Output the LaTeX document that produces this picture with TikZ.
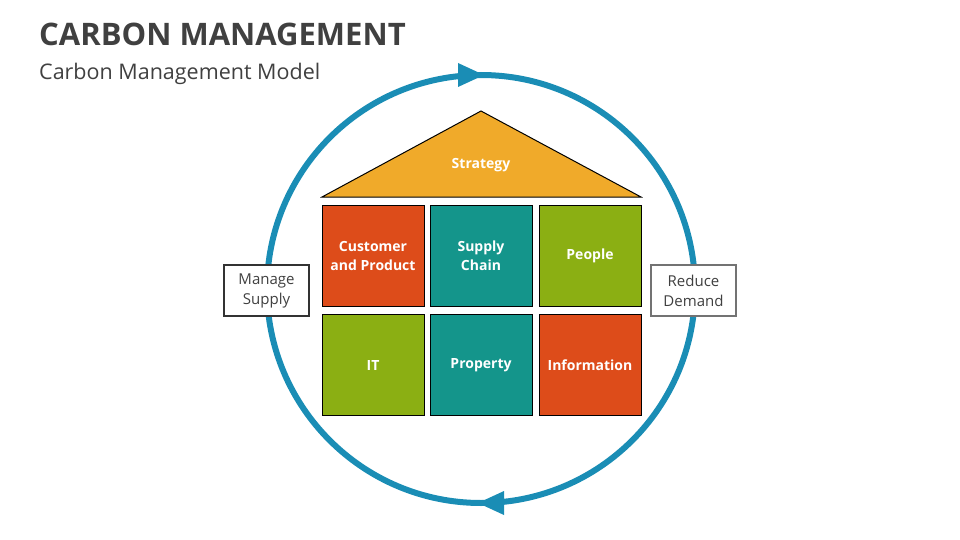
\documentclass[tikz,border=0pt]{standalone}
\usepackage{fontspec}
\setmainfont{Open Sans}
\definecolor{ttl}{HTML}{404040}
\definecolor{ring}{HTML}{1A8DB5}
\definecolor{orn}{HTML}{DD4C1A}
\definecolor{tea}{HTML}{14958B}
\definecolor{grn}{HTML}{8BAF13}
\definecolor{stra}{HTML}{F0AA2A}
\tikzset{blk/.style={draw=black,line width=1pt,minimum width=102pt,minimum height=101pt,text=white,font=\fontsize{14}{19}\selectfont\bfseries,align=center},
side/.style={draw,fill=white,line width=2pt,minimum width=85pt,minimum height=51pt,font=\fontsize{15}{20}\selectfont,align=center,text=ttl}}
\begin{document}
\begin{tikzpicture}[x=1pt,y=-1pt]
\useasboundingbox (0,0) rectangle (960,540);
\node[anchor=base west,text=ttl,font=\fontsize{31}{36}\selectfont\bfseries,inner sep=0] (t) at (39,46) {CARBON MANAGEMENT};
\node[anchor=base west,text=ttl,font=\fontsize{21.5}{26}\selectfont,inner sep=0] (s) at (39,80) {Carbon Management Model};
\draw[ring,line width=6pt] (481,289) circle (214);
\fill[ring] (484,75) -- (458,63) -- (458,87) -- cycle;
\fill[ring] (478,503) -- (504,491) -- (504,515) -- cycle;
\draw[fill=stra,line width=1pt] (481,111) -- (641,197) -- (322,197) -- cycle;
\node[text=white,font=\fontsize{14}{17}\selectfont\bfseries] (st) at (481,165) {Strategy};
\node[blk,fill=orn] (a) at (373,256) {Customer\\and Product};
\node[blk,fill=tea] (b) at (481,256) {Supply\\Chain};
\node[blk,fill=grn] (c) at (590,256) {People};
\node[blk,fill=grn] (d) at (373,365) {IT};
\node[blk,fill=tea] (e) at (481,365) {Property};
\node[blk,fill=orn] (f) at (590,365) {Information};
\node[side,draw=black!80] (m) at (266.5,290.5) {Manage\\Supply};
\node[side,draw=black!55] (r) at (693.5,290.5) {Reduce\\Demand};
\end{tikzpicture}
\end{document}
